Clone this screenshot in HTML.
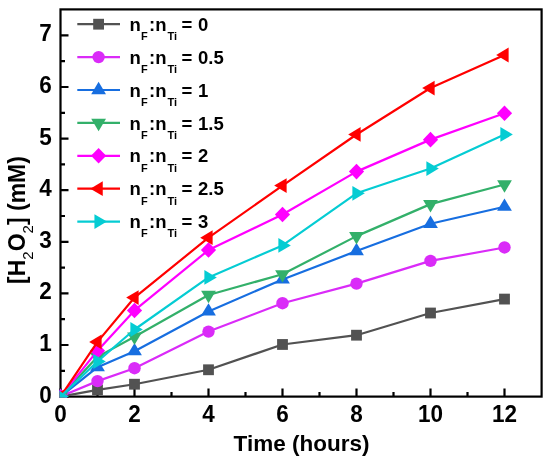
<!DOCTYPE html>
<html><head><meta charset="utf-8"><style>
html,body{margin:0;padding:0;background:#fff;width:550px;height:462px;overflow:hidden}
svg{display:block}
text{font-family:"Liberation Sans",Arial,sans-serif;font-weight:bold;fill:#000}
</style></head><body>
<svg width="550" height="462" viewBox="0 0 550 462">
<rect width="550" height="462" fill="#fff"/>
<rect x="60.5" y="9.4" width="481.1" height="387.2" fill="none" stroke="#000" stroke-width="2.2"/>
<path d="M60.50,396.6v-8 M97.50,396.6v-4.5 M134.50,396.6v-8 M171.50,396.6v-4.5 M208.50,396.6v-8 M245.50,396.6v-4.5 M282.50,396.6v-8 M319.50,396.6v-4.5 M356.50,396.6v-8 M393.50,396.6v-4.5 M430.50,396.6v-8 M467.50,396.6v-4.5 M504.50,396.6v-8 M60.5,396.60h8 M60.5,370.80h4.5 M60.5,345.00h8 M60.5,319.20h4.5 M60.5,293.40h8 M60.5,267.60h4.5 M60.5,241.80h8 M60.5,216.00h4.5 M60.5,190.20h8 M60.5,164.40h4.5 M60.5,138.60h8 M60.5,112.80h4.5 M60.5,87.00h8 M60.5,61.20h4.5 M60.5,35.40h8" stroke="#000" stroke-width="2.2" fill="none"/>
<defs><clipPath id="c"><rect x="59.4" y="8.3" width="483.3" height="389.4"/></clipPath></defs>
<g clip-path="url(#c)">
<polyline points="60.50,396.60 97.50,389.89 134.50,384.22 208.50,369.77 282.50,344.48 356.50,335.20 430.50,313.01 504.50,299.08" fill="none" stroke="#525252" stroke-width="2.2" stroke-linejoin="round"/>
<rect x="55.10" y="391.20" width="10.8" height="10.8" fill="#525252"/>
<rect x="92.10" y="384.49" width="10.8" height="10.8" fill="#525252"/>
<rect x="129.10" y="378.82" width="10.8" height="10.8" fill="#525252"/>
<rect x="203.10" y="364.37" width="10.8" height="10.8" fill="#525252"/>
<rect x="277.10" y="339.08" width="10.8" height="10.8" fill="#525252"/>
<rect x="351.10" y="329.80" width="10.8" height="10.8" fill="#525252"/>
<rect x="425.10" y="307.61" width="10.8" height="10.8" fill="#525252"/>
<rect x="499.10" y="293.68" width="10.8" height="10.8" fill="#525252"/>
<polyline points="60.50,396.60 97.50,381.12 134.50,368.22 208.50,331.58 282.50,303.20 356.50,283.60 430.50,260.89 504.50,247.48" fill="none" stroke="#DA2BF8" stroke-width="2.2" stroke-linejoin="round"/>
<circle cx="60.50" cy="396.60" r="6.2" fill="#DA2BF8"/>
<circle cx="97.50" cy="381.12" r="6.2" fill="#DA2BF8"/>
<circle cx="134.50" cy="368.22" r="6.2" fill="#DA2BF8"/>
<circle cx="208.50" cy="331.58" r="6.2" fill="#DA2BF8"/>
<circle cx="282.50" cy="303.20" r="6.2" fill="#DA2BF8"/>
<circle cx="356.50" cy="283.60" r="6.2" fill="#DA2BF8"/>
<circle cx="430.50" cy="260.89" r="6.2" fill="#DA2BF8"/>
<circle cx="504.50" cy="247.48" r="6.2" fill="#DA2BF8"/>
<polyline points="60.50,396.60 97.50,367.19 134.50,351.19 208.50,311.46 282.50,279.47 356.50,251.09 430.50,223.74 504.50,206.71" fill="none" stroke="#176EE0" stroke-width="2.2" stroke-linejoin="round"/>
<polygon points="60.50,388.30 67.90,400.75 53.10,400.75" fill="#176EE0"/>
<polygon points="97.50,358.89 104.90,371.34 90.10,371.34" fill="#176EE0"/>
<polygon points="134.50,342.89 141.90,355.34 127.10,355.34" fill="#176EE0"/>
<polygon points="208.50,303.16 215.90,315.61 201.10,315.61" fill="#176EE0"/>
<polygon points="282.50,271.17 289.90,283.62 275.10,283.62" fill="#176EE0"/>
<polygon points="356.50,242.79 363.90,255.24 349.10,255.24" fill="#176EE0"/>
<polygon points="430.50,215.44 437.90,227.89 423.10,227.89" fill="#176EE0"/>
<polygon points="504.50,198.41 511.90,210.86 497.10,210.86" fill="#176EE0"/>
<polyline points="60.50,396.60 97.50,356.87 134.50,336.74 208.50,294.95 282.50,274.31 356.50,236.12 430.50,204.13 504.50,184.52" fill="none" stroke="#33B06A" stroke-width="2.2" stroke-linejoin="round"/>
<polygon points="60.50,404.90 67.90,392.45 53.10,392.45" fill="#33B06A"/>
<polygon points="97.50,365.17 104.90,352.72 90.10,352.72" fill="#33B06A"/>
<polygon points="134.50,345.04 141.90,332.59 127.10,332.59" fill="#33B06A"/>
<polygon points="208.50,303.25 215.90,290.80 201.10,290.80" fill="#33B06A"/>
<polygon points="282.50,282.61 289.90,270.16 275.10,270.16" fill="#33B06A"/>
<polygon points="356.50,244.42 363.90,231.97 349.10,231.97" fill="#33B06A"/>
<polygon points="430.50,212.43 437.90,199.98 423.10,199.98" fill="#33B06A"/>
<polygon points="504.50,192.82 511.90,180.37 497.10,180.37" fill="#33B06A"/>
<polyline points="60.50,396.60 97.50,350.68 134.50,310.43 208.50,250.06 282.50,214.45 356.50,171.62 430.50,139.63 504.50,113.32" fill="none" stroke="#FF00FF" stroke-width="2.2" stroke-linejoin="round"/>
<polygon points="60.50,388.80 68.10,396.60 60.50,404.40 52.90,396.60" fill="#FF00FF"/>
<polygon points="97.50,342.88 105.10,350.68 97.50,358.48 89.90,350.68" fill="#FF00FF"/>
<polygon points="134.50,302.63 142.10,310.43 134.50,318.23 126.90,310.43" fill="#FF00FF"/>
<polygon points="208.50,242.26 216.10,250.06 208.50,257.86 200.90,250.06" fill="#FF00FF"/>
<polygon points="282.50,206.65 290.10,214.45 282.50,222.25 274.90,214.45" fill="#FF00FF"/>
<polygon points="356.50,163.82 364.10,171.62 356.50,179.42 348.90,171.62" fill="#FF00FF"/>
<polygon points="430.50,131.83 438.10,139.63 430.50,147.43 422.90,139.63" fill="#FF00FF"/>
<polygon points="504.50,105.52 512.10,113.32 504.50,121.12 496.90,113.32" fill="#FF00FF"/>
<polyline points="60.50,396.60 97.50,341.90 134.50,297.53 208.50,237.67 282.50,185.56 356.50,134.47 430.50,88.03 504.50,55.01" fill="none" stroke="#FF0000" stroke-width="2.2" stroke-linejoin="round"/>
<polygon points="52.20,396.60 64.65,389.20 64.65,404.00" fill="#FF0000"/>
<polygon points="89.20,341.90 101.65,334.50 101.65,349.30" fill="#FF0000"/>
<polygon points="126.20,297.53 138.65,290.13 138.65,304.93" fill="#FF0000"/>
<polygon points="200.20,237.67 212.65,230.27 212.65,245.07" fill="#FF0000"/>
<polygon points="274.20,185.56 286.65,178.16 286.65,192.96" fill="#FF0000"/>
<polygon points="348.20,134.47 360.65,127.07 360.65,141.87" fill="#FF0000"/>
<polygon points="422.20,88.03 434.65,80.63 434.65,95.43" fill="#FF0000"/>
<polygon points="496.20,55.01 508.65,47.61 508.65,62.41" fill="#FF0000"/>
<polyline points="60.50,396.60 97.50,361.51 134.50,329.52 208.50,277.40 282.50,245.41 356.50,193.30 430.50,168.53 504.50,134.47" fill="none" stroke="#05CCD3" stroke-width="2.2" stroke-linejoin="round"/>
<polygon points="68.80,396.60 56.35,389.20 56.35,404.00" fill="#05CCD3"/>
<polygon points="105.80,361.51 93.35,354.11 93.35,368.91" fill="#05CCD3"/>
<polygon points="142.80,329.52 130.35,322.12 130.35,336.92" fill="#05CCD3"/>
<polygon points="216.80,277.40 204.35,270.00 204.35,284.80" fill="#05CCD3"/>
<polygon points="290.80,245.41 278.35,238.01 278.35,252.81" fill="#05CCD3"/>
<polygon points="364.80,193.30 352.35,185.90 352.35,200.70" fill="#05CCD3"/>
<polygon points="438.80,168.53 426.35,161.13 426.35,175.93" fill="#05CCD3"/>
<polygon points="512.80,134.47 500.35,127.07 500.35,141.87" fill="#05CCD3"/>
</g>
<text transform="translate(60.50,422.2) scale(1,1.08)" font-size="22.5" text-anchor="middle">0</text>
<text transform="translate(134.50,422.2) scale(1,1.08)" font-size="22.5" text-anchor="middle">2</text>
<text transform="translate(208.50,422.2) scale(1,1.08)" font-size="22.5" text-anchor="middle">4</text>
<text transform="translate(282.50,422.2) scale(1,1.08)" font-size="22.5" text-anchor="middle">6</text>
<text transform="translate(356.50,422.2) scale(1,1.08)" font-size="22.5" text-anchor="middle">8</text>
<text transform="translate(430.50,422.2) scale(1,1.08)" font-size="22.5" text-anchor="middle">10</text>
<text transform="translate(504.50,422.2) scale(1,1.08)" font-size="22.5" text-anchor="middle">12</text>
<text transform="translate(51.7,402.60) scale(1,1.08)" font-size="22.5" text-anchor="end">0</text>
<text transform="translate(51.7,351.00) scale(1,1.08)" font-size="22.5" text-anchor="end">1</text>
<text transform="translate(51.7,299.40) scale(1,1.08)" font-size="22.5" text-anchor="end">2</text>
<text transform="translate(51.7,247.80) scale(1,1.08)" font-size="22.5" text-anchor="end">3</text>
<text transform="translate(51.7,196.20) scale(1,1.08)" font-size="22.5" text-anchor="end">4</text>
<text transform="translate(51.7,144.60) scale(1,1.08)" font-size="22.5" text-anchor="end">5</text>
<text transform="translate(51.7,93.00) scale(1,1.08)" font-size="22.5" text-anchor="end">6</text>
<text transform="translate(51.7,41.40) scale(1,1.08)" font-size="22.5" text-anchor="end">7</text>
<text x="301.5" y="451.3" font-size="22.5" text-anchor="middle">Time (hours)</text>
<text transform="translate(24.8,220) rotate(-90)" font-size="23" text-anchor="middle">[H<tspan font-size="15" font-weight="normal" dy="8.3">2</tspan><tspan dy="-8.3">O</tspan><tspan font-size="15" font-weight="normal" dy="8.3">2</tspan><tspan dy="-8.3">] (mM)</tspan></text>
<line x1="77.3" y1="24.20" x2="120" y2="24.20" stroke="#525252" stroke-width="2.2"/>
<rect x="93.20" y="18.80" width="10.8" height="10.8" fill="#525252"/>
<text y="30.80" font-size="18.5"><tspan x="129.5">n</tspan><tspan x="149">:</tspan><tspan x="155.2">n</tspan><tspan x="181.5">=</tspan><tspan x="198">0</tspan></text>
<text y="40.00" font-size="11"><tspan x="141">F</tspan><tspan x="167.5">Ti</tspan></text>
<line x1="77.3" y1="57.10" x2="120" y2="57.10" stroke="#DA2BF8" stroke-width="2.2"/>
<circle cx="98.60" cy="57.10" r="6.2" fill="#DA2BF8"/>
<text y="63.70" font-size="18.5"><tspan x="129.5">n</tspan><tspan x="149">:</tspan><tspan x="155.2">n</tspan><tspan x="181.5">=</tspan><tspan x="198">0.5</tspan></text>
<text y="72.90" font-size="11"><tspan x="141">F</tspan><tspan x="167.5">Ti</tspan></text>
<line x1="77.3" y1="90.00" x2="120" y2="90.00" stroke="#176EE0" stroke-width="2.2"/>
<polygon points="98.60,81.70 106.00,94.15 91.20,94.15" fill="#176EE0"/>
<text y="96.60" font-size="18.5"><tspan x="129.5">n</tspan><tspan x="149">:</tspan><tspan x="155.2">n</tspan><tspan x="181.5">=</tspan><tspan x="198">1</tspan></text>
<text y="105.80" font-size="11"><tspan x="141">F</tspan><tspan x="167.5">Ti</tspan></text>
<line x1="77.3" y1="122.90" x2="120" y2="122.90" stroke="#33B06A" stroke-width="2.2"/>
<polygon points="98.60,131.20 106.00,118.75 91.20,118.75" fill="#33B06A"/>
<text y="129.50" font-size="18.5"><tspan x="129.5">n</tspan><tspan x="149">:</tspan><tspan x="155.2">n</tspan><tspan x="181.5">=</tspan><tspan x="198">1.5</tspan></text>
<text y="138.70" font-size="11"><tspan x="141">F</tspan><tspan x="167.5">Ti</tspan></text>
<line x1="77.3" y1="155.80" x2="120" y2="155.80" stroke="#FF00FF" stroke-width="2.2"/>
<polygon points="98.60,148.00 106.20,155.80 98.60,163.60 91.00,155.80" fill="#FF00FF"/>
<text y="162.40" font-size="18.5"><tspan x="129.5">n</tspan><tspan x="149">:</tspan><tspan x="155.2">n</tspan><tspan x="181.5">=</tspan><tspan x="198">2</tspan></text>
<text y="171.60" font-size="11"><tspan x="141">F</tspan><tspan x="167.5">Ti</tspan></text>
<line x1="77.3" y1="188.70" x2="120" y2="188.70" stroke="#FF0000" stroke-width="2.2"/>
<polygon points="90.30,188.70 102.75,181.30 102.75,196.10" fill="#FF0000"/>
<text y="195.30" font-size="18.5"><tspan x="129.5">n</tspan><tspan x="149">:</tspan><tspan x="155.2">n</tspan><tspan x="181.5">=</tspan><tspan x="198">2.5</tspan></text>
<text y="204.50" font-size="11"><tspan x="141">F</tspan><tspan x="167.5">Ti</tspan></text>
<line x1="77.3" y1="221.60" x2="120" y2="221.60" stroke="#05CCD3" stroke-width="2.2"/>
<polygon points="106.90,221.60 94.45,214.20 94.45,229.00" fill="#05CCD3"/>
<text y="228.20" font-size="18.5"><tspan x="129.5">n</tspan><tspan x="149">:</tspan><tspan x="155.2">n</tspan><tspan x="181.5">=</tspan><tspan x="198">3</tspan></text>
<text y="237.40" font-size="11"><tspan x="141">F</tspan><tspan x="167.5">Ti</tspan></text>
</svg></body></html>
